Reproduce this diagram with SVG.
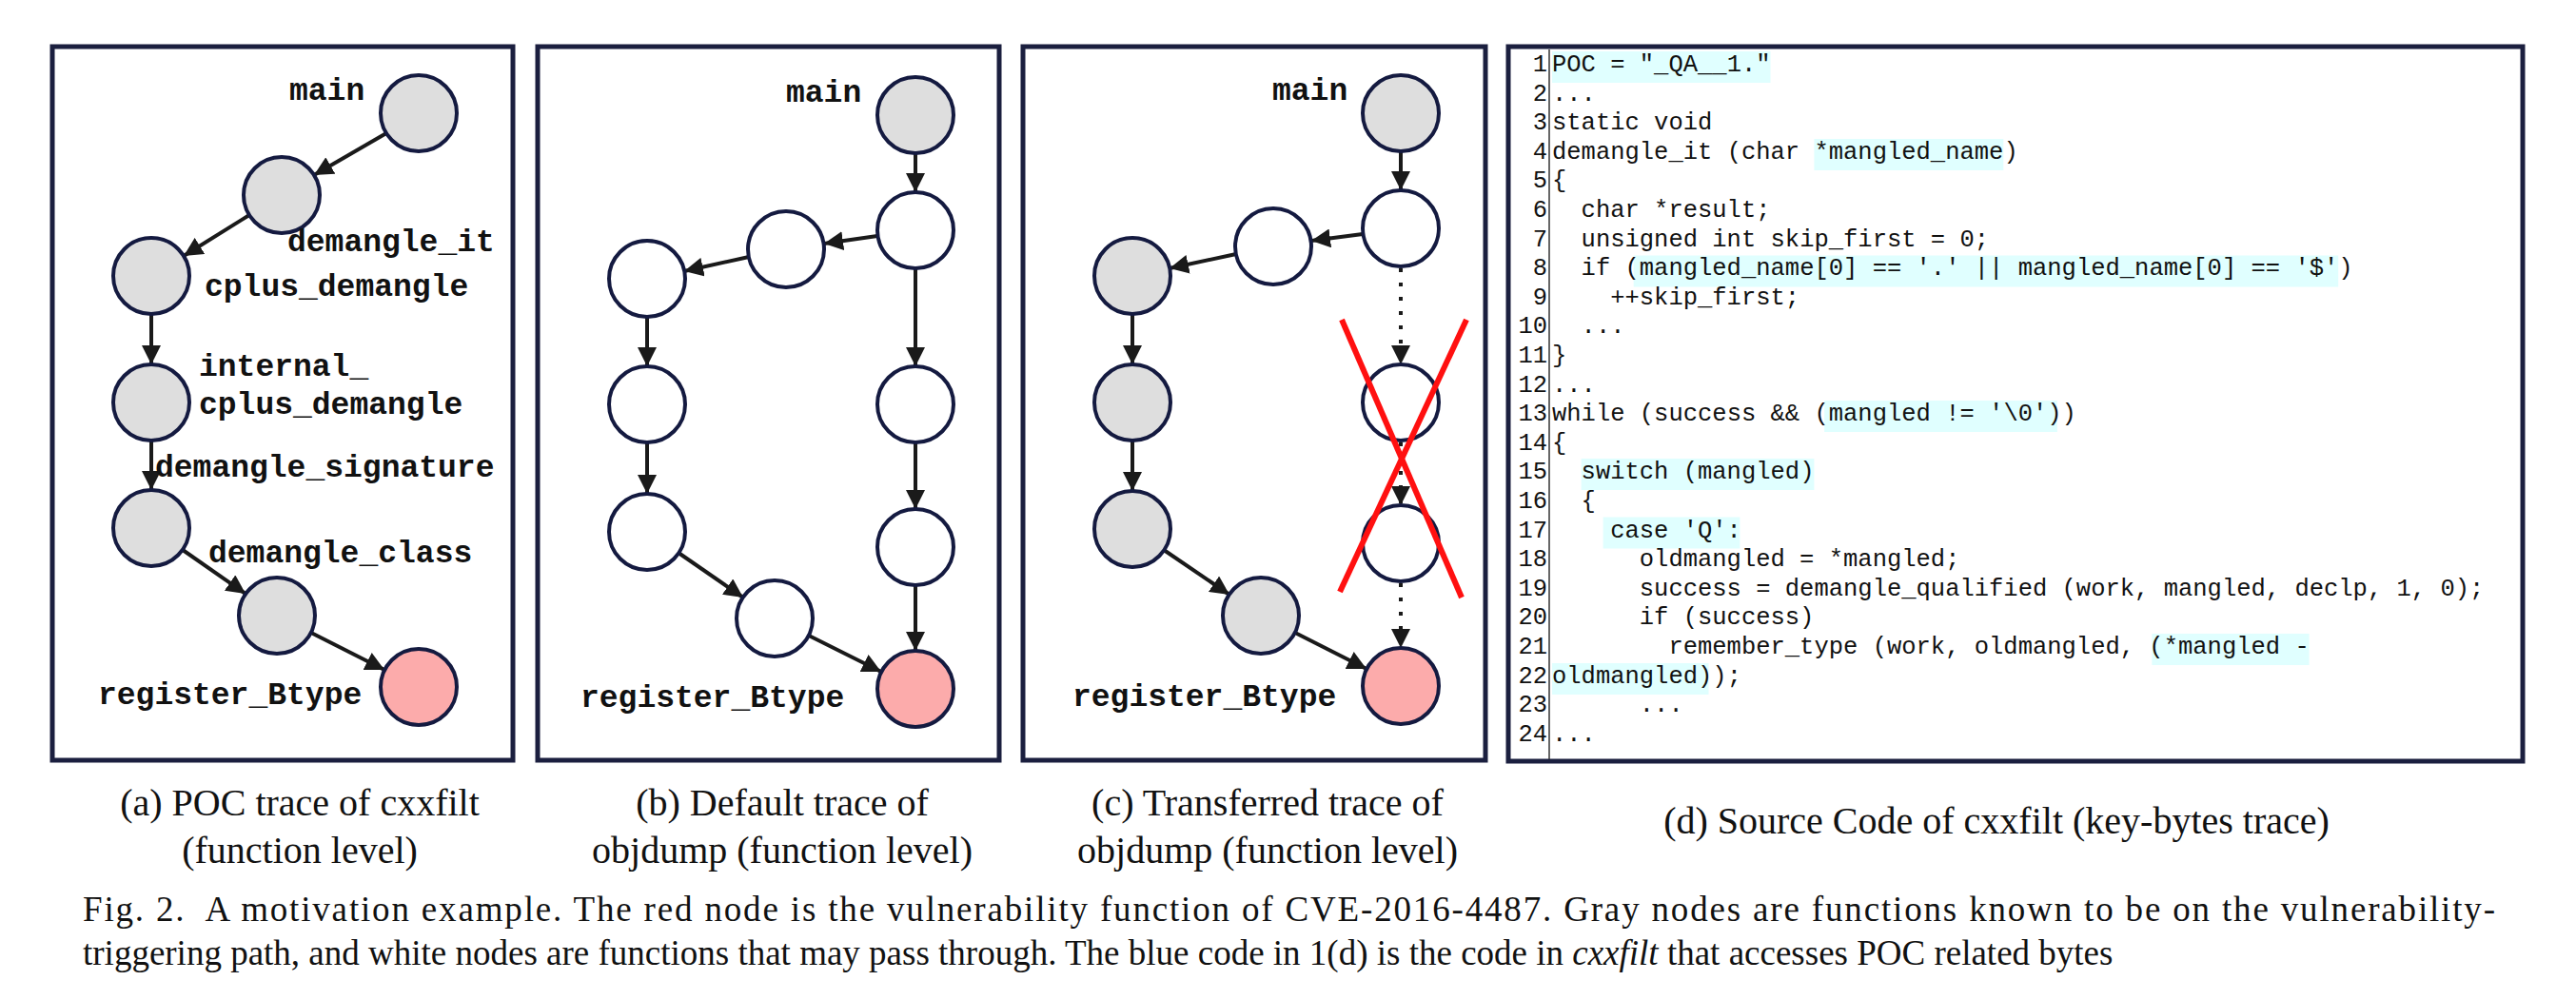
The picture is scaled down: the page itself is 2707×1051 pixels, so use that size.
<svg xmlns="http://www.w3.org/2000/svg" width="2707" height="1051" viewBox="0 0 2707 1051">
<style>
.panel{fill:#fff;stroke:#1b1f3f;stroke-width:5}
.n{stroke:#141a40;stroke-width:4}
.g{fill:#dedede}.w{fill:#fff}.r{fill:#fcabab}
.e{stroke:#1a1a1a;stroke-width:4;fill:none;marker-end:url(#ah)}
.d{stroke:#1a1a1a;stroke-width:4;fill:none;stroke-dasharray:4 11;marker-end:url(#ah)}
.lb{font-family:"Liberation Mono",monospace;font-weight:bold;font-size:33px;fill:#111}
.code{font-family:"Liberation Mono",monospace;font-size:25.5px;fill:#111}
.hl{fill:#e0ffff}
.cap{font-family:"Liberation Serif",serif;font-size:40px;fill:#111;text-anchor:middle}
.fig{font-family:"Liberation Serif",serif;font-size:37px;fill:#111}
</style>
<defs>
<marker id="ah" viewBox="0 0 10 10" refX="10" refY="5" markerWidth="5" markerHeight="5" orient="auto" markerUnits="strokeWidth">
<path d="M0,0 L10,5 L0,10 z" fill="#1a1a1a"/>
</marker>
</defs>
<rect class="panel" x="55" y="49" width="484" height="750"/>
<rect class="panel" x="565" y="49" width="485" height="750"/>
<rect class="panel" x="1075" y="49" width="486" height="750"/>
<rect class="panel" x="1585" y="49" width="1066" height="751"/>

<g id="connectors">
<line class="e" x1="406" y1="140" x2="330" y2="184"/>
<line class="e" x1="262" y1="226" x2="193" y2="269"/>
<line class="e" x1="159" y1="330" x2="159" y2="383"/>
<line class="e" x1="159" y1="463" x2="159" y2="515"/>
<line class="e" x1="192" y1="578" x2="258" y2="624"/>
<line class="e" x1="327" y1="665" x2="404" y2="704"/>

<line class="e" x1="962" y1="161" x2="962" y2="202"/>
<line class="e" x1="922" y1="248" x2="866" y2="256"/>
<line class="e" x1="787" y1="270" x2="719" y2="285"/>
<line class="e" x1="680" y1="333" x2="680" y2="385"/>
<line class="e" x1="680" y1="465" x2="680" y2="519"/>
<line class="e" x1="713" y1="581" x2="781" y2="628"/>
<line class="e" x1="850" y1="668" x2="926" y2="706"/>
<line class="e" x1="962" y1="282" x2="962" y2="385"/>
<line class="e" x1="962" y1="465" x2="962" y2="535"/>
<line class="e" x1="962" y1="615" x2="962" y2="684"/>

<line class="e" x1="1472" y1="159" x2="1472" y2="200"/>
<line class="e" x1="1432" y1="246" x2="1378" y2="253"/>
<line class="e" x1="1299" y1="267" x2="1229" y2="282"/>
<line class="e" x1="1190" y1="330" x2="1190" y2="383"/>
<line class="e" x1="1190" y1="463" x2="1190" y2="516"/>
<line class="e" x1="1223" y1="578" x2="1292" y2="625"/>
<line class="e" x1="1361" y1="665" x2="1436" y2="703"/>
<line class="d" x1="1472" y1="282" x2="1472" y2="383"/>
<line class="d" x1="1472" y1="465" x2="1472" y2="531"/>
<line class="d" x1="1472" y1="613" x2="1472" y2="681"/>
</g>

<g id="a-main"><circle class="n g" cx="440" cy="119" r="40"/><text class="lb" x="304" y="105">main</text></g>
<g id="a-demangle_it"><circle class="n g" cx="296" cy="205" r="40"/><text class="lb" x="302" y="264">demangle_it</text></g>
<g id="a-cplus_demangle"><circle class="n g" cx="159" cy="290" r="40"/><text class="lb" x="215" y="311">cplus_demangle</text></g>
<g id="a-internal"><circle class="n g" cx="159" cy="423" r="40"/><text class="lb" x="209" y="395">internal_</text><text class="lb" x="209" y="435">cplus_demangle</text></g>
<g id="a-signature"><circle class="n g" cx="159" cy="555" r="40"/><text class="lb" x="163" y="501">demangle_signature</text></g>
<g id="a-class"><circle class="n g" cx="291" cy="647" r="40"/><text class="lb" x="219" y="591">demangle_class</text></g>
<g id="a-register"><circle class="n r" cx="440" cy="722" r="40"/><text class="lb" x="103" y="740">register_Btype</text></g>

<g id="b-main"><circle class="n g" cx="962" cy="121" r="40"/><text class="lb" x="826" y="107">main</text></g>
<g id="b-r2"><circle class="n w" cx="962" cy="242" r="40"/></g>
<g id="b-mid"><circle class="n w" cx="826" cy="262" r="40"/></g>
<g id="b-l1"><circle class="n w" cx="680" cy="293" r="40"/></g>
<g id="b-l2"><circle class="n w" cx="680" cy="425" r="40"/></g>
<g id="b-l3"><circle class="n w" cx="680" cy="559" r="40"/></g>
<g id="b-bm"><circle class="n w" cx="814" cy="650" r="40"/></g>
<g id="b-r3"><circle class="n w" cx="962" cy="425" r="40"/></g>
<g id="b-r4"><circle class="n w" cx="962" cy="575" r="40"/></g>
<g id="b-register"><circle class="n r" cx="962" cy="724" r="40"/><text class="lb" x="610" y="743">register_Btype</text></g>

<g id="c-main"><circle class="n g" cx="1472" cy="119" r="40"/><text class="lb" x="1337" y="105">main</text></g>
<g id="c-r2"><circle class="n w" cx="1472" cy="240" r="40"/></g>
<g id="c-mid"><circle class="n w" cx="1338" cy="259" r="40"/></g>
<g id="c-l1"><circle class="n g" cx="1190" cy="290" r="40"/></g>
<g id="c-l2"><circle class="n g" cx="1190" cy="423" r="40"/></g>
<g id="c-l3"><circle class="n g" cx="1190" cy="556" r="40"/></g>
<g id="c-bm"><circle class="n g" cx="1325" cy="647" r="40"/></g>
<g id="c-r3"><circle class="n w" cx="1472" cy="423" r="40"/></g>
<g id="c-r4"><circle class="n w" cx="1472" cy="571" r="40"/></g>
<g id="c-register"><circle class="n r" cx="1472" cy="721" r="40"/><text class="lb" x="1127" y="742">register_Btype</text></g>
<g id="c-cross" stroke="#ff1010" stroke-width="6">
<line x1="1410" y1="336" x2="1536" y2="628"/>
<line x1="1541" y1="336" x2="1408" y2="622"/>
</g>

<g id="code">
<rect class="hl" x="1631" y="54" width="229.5" height="33"/>
<rect class="hl" x="1906.4" y="146" width="198.9" height="33"/>
<rect class="hl" x="1716.7" y="268.5" width="740.5" height="33"/>
<rect class="hl" x="1917.1" y="421" width="244.8" height="33"/>
<rect class="hl" x="1661.6" y="482" width="244.8" height="33"/>
<rect class="hl" x="1684.6" y="543.5" width="143.8" height="33"/>
<rect class="hl" x="2261.4" y="666" width="165.2" height="33"/>
<rect class="hl" x="1631" y="697" width="164.5" height="33"/>
<line x1="1628" y1="52" x2="1628" y2="798" stroke="#333" stroke-width="1.5"/>
<g class="code" text-anchor="end">
<text x="1626" y="75">1</text><text x="1626" y="105.6">2</text><text x="1626" y="136.2">3</text><text x="1626" y="166.8">4</text><text x="1626" y="197.4">5</text><text x="1626" y="228">6</text><text x="1626" y="258.6">7</text><text x="1626" y="289.2">8</text><text x="1626" y="319.8">9</text><text x="1626" y="350.4">10</text><text x="1626" y="381">11</text><text x="1626" y="411.6">12</text><text x="1626" y="442.2">13</text><text x="1626" y="472.8">14</text><text x="1626" y="503.4">15</text><text x="1626" y="534">16</text><text x="1626" y="564.6">17</text><text x="1626" y="595.2">18</text><text x="1626" y="625.8">19</text><text x="1626" y="656.4">20</text><text x="1626" y="687">21</text><text x="1626" y="717.6">22</text><text x="1626" y="748.2">23</text><text x="1626" y="778.8">24</text>
</g>
<g class="code">
<text x="1631" y="75">POC = "_QA__1."</text>
<text x="1631" y="105.6">...</text>
<text x="1631" y="136.2">static void</text>
<text x="1631" y="166.8">demangle_it (char *mangled_name)</text>
<text x="1631" y="197.4">{</text>
<text x="1661.6" y="228">char *result;</text>
<text x="1661.6" y="258.6">unsigned int skip_first = 0;</text>
<text x="1661.6" y="289.2">if (mangled_name[0] == '.' || mangled_name[0] == '$')</text>
<text x="1692.2" y="319.8">++skip_first;</text>
<text x="1661.6" y="350.4">...</text>
<text x="1631" y="381">}</text>
<text x="1631" y="411.6">...</text>
<text x="1631" y="442.2">while (success &amp;&amp; (mangled != '\0'))</text>
<text x="1631" y="472.8">{</text>
<text x="1661.6" y="503.4">switch (mangled)</text>
<text x="1661.6" y="534">{</text>
<text x="1692.2" y="564.6">case 'Q':</text>
<text x="1722.8" y="595.2">oldmangled = *mangled;</text>
<text x="1722.8" y="625.8">success = demangle_qualified (work, mangled, declp, 1, 0);</text>
<text x="1722.8" y="656.4">if (success)</text>
<text x="1753.4" y="687">remember_type (work, oldmangled, (*mangled -</text>
<text x="1631" y="717.6">oldmangled));</text>
<text x="1722.8" y="748.2">...</text>
<text x="1631" y="778.8">...</text>
</g>
</g>

<g id="captions">
<text class="cap" x="315" y="857">(a) POC trace of cxxfilt</text>
<text class="cap" x="315" y="907">(function level)</text>
<text class="cap" x="822" y="857">(b) Default trace of</text>
<text class="cap" x="822" y="907">objdump (function level)</text>
<text class="cap" x="1332" y="857">(c) Transferred trace of</text>
<text class="cap" x="1332" y="907">objdump (function level)</text>
<text class="cap" x="2098" y="876">(d) Source Code of cxxfilt (key-bytes trace)</text>
<text class="fig" x="87" y="968" textLength="2535" lengthAdjust="spacing">Fig. 2.&#160; A motivation example. The red node is the vulnerability function of CVE-2016-4487. Gray nodes are functions known to be on the vulnerability-</text>
<text class="fig" x="87" y="1014">triggering path, and white nodes are functions that may pass through. The blue code in 1(d) is the code in <tspan font-style="italic">cxxfilt</tspan> that accesses POC related bytes</text>
</g>
</svg>
